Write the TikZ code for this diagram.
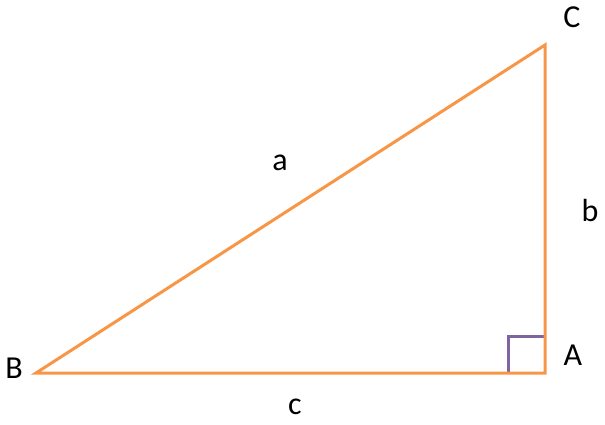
\documentclass[tikz,border=0pt]{standalone}
\usepackage{fontspec}
\setmainfont{Carlito}
\usetikzlibrary{calc}
\definecolor{lato}{HTML}{F79646}
\definecolor{retto}{HTML}{8064A2}

\begin{document}
\begin{tikzpicture}[x=1pt,y=-1pt,font=\fontsize{32}{36}\selectfont,
    lato/.style={draw=lato,line width=3pt},
    retto/.style={draw=retto,line width=3pt}]
    \useasboundingbox (0,0) rectangle (605,425);
    \pgfmathsetmacro{\q}{37} % lato del quadratino
    \coordinate (B) at (36,373); % vertice B
    \coordinate (A) at (545,373); % vertice A (angolo retto)
    \coordinate (C) at (545,45); % vertice C
    % angolo retto in A
    \draw [retto] ($(A)+(-\q,0)$) -- ($(A)+(-\q,-\q)$) -- ($(A)+(0,-\q)$);
    \draw [lato,line join=miter] (B) -- (A) -- (C) -- cycle; % triangolo
    \node (lC) at (572,17) {C}; % etichetta C
    \node (lB) at (14,368) {B}; % etichetta B
    \node (lA) at (573,355) {A}; % etichetta A
    \node (la) at (280,163) {a}; % ipotenusa
    \node (lb) at (590,210) {b}; % cateto AC
    \node (lc) at (295,407) {c}; % cateto AB
\end{tikzpicture}
\end{document}
